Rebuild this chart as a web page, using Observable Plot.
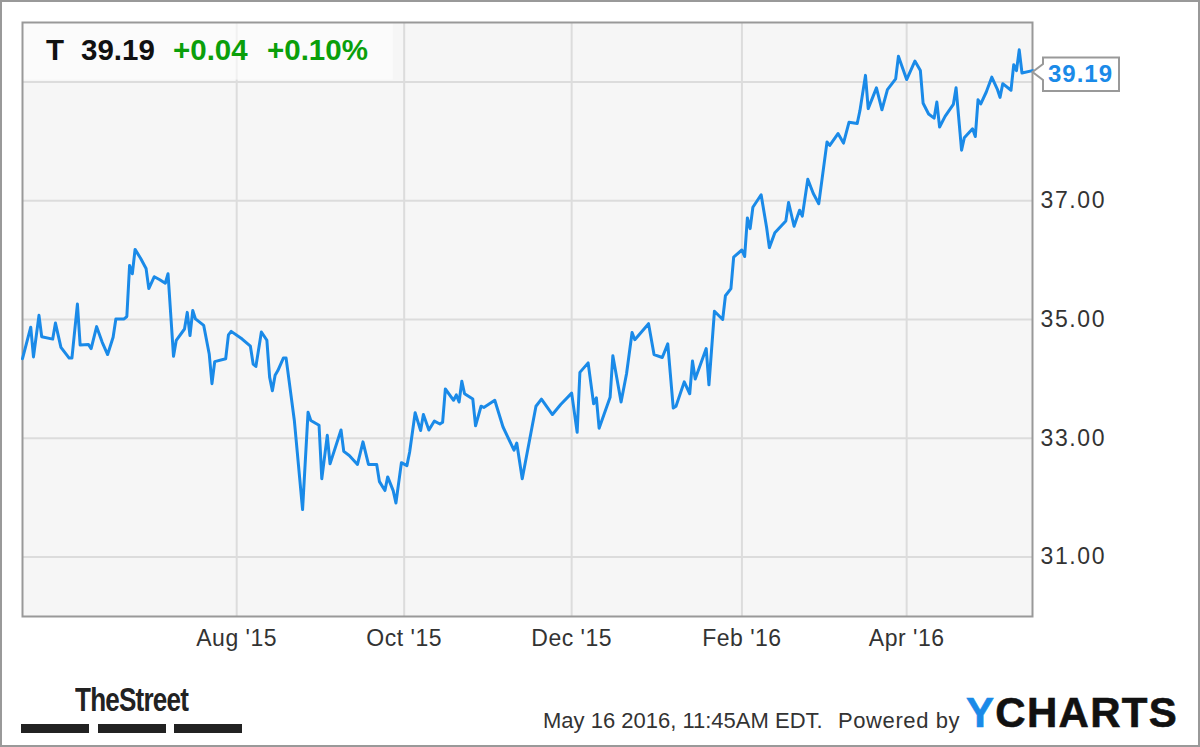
<!DOCTYPE html>
<html><head><meta charset="utf-8">
<script src="https://cdn.jsdelivr.net/npm/d3@7"></script>
<script src="https://cdn.jsdelivr.net/npm/@observablehq/plot@0.6"></script>
<style>
html,body{margin:0;padding:0;background:#fff;overflow:hidden}
#wrap{position:relative;width:1200px;height:747px;font-family:"Liberation Sans",Arial,sans-serif}
#wrap svg{display:block}
.abs{position:absolute;white-space:pre;line-height:1}
.bar{position:absolute;top:724px;height:9px;background:#222;width:68px}
[aria-label="y-axis tick label"]{letter-spacing:1.6px}
[aria-label="x-axis tick label"]{letter-spacing:.5px}
</style></head><body><div id="wrap"></div>
<script>
const ticker = "T";
const lastPrice = 39.19;
const change = "+0.04";
const changePct = "+0.10%";
const yTicks = [31, 33, 35, 37];
const yGrid = [31, 33, 35, 37, 39];
const xTicks = ["2015-08-01","2015-10-01","2015-12-01","2016-02-01","2016-04-01"];
const xDomain = ["2015-05-15","2016-05-16T20:00:00Z"];
const yDomain = [30, 40];
const headerBandEnd = "2015-09-27";
const dates = ["2015-05-15","2015-05-18","2015-05-19","2015-05-21","2015-05-22","2015-05-26","2015-05-27","2015-05-29","2015-06-01","2015-06-02","2015-06-04","2015-06-05","2015-06-08","2015-06-09","2015-06-11","2015-06-13","2015-06-15","2015-06-17","2015-06-18","2015-06-21","2015-06-22","2015-06-23","2015-06-24","2015-06-25","2015-06-27","2015-06-29","2015-06-30","2015-07-02","2015-07-04","2015-07-06","2015-07-07","2015-07-09","2015-07-10","2015-07-13","2015-07-14","2015-07-15","2015-07-16","2015-07-17","2015-07-20","2015-07-22","2015-07-23","2015-07-24","2015-07-28","2015-07-29","2015-07-30","2015-08-03","2015-08-06","2015-08-07","2015-08-08","2015-08-10","2015-08-12","2015-08-13","2015-08-14","2015-08-15","2015-08-16","2015-08-18","2015-08-19","2015-08-22","2015-08-25","2015-08-27","2015-08-28","2015-08-31","2015-09-01","2015-09-03","2015-09-04","2015-09-08","2015-09-09","2015-09-11","2015-09-14","2015-09-16","2015-09-18","2015-09-21","2015-09-22","2015-09-24","2015-09-25","2015-09-27","2015-09-28","2015-09-30","2015-10-02","2015-10-03","2015-10-05","2015-10-07","2015-10-08","2015-10-10","2015-10-12","2015-10-14","2015-10-15","2015-10-16","2015-10-19","2015-10-20","2015-10-21","2015-10-22","2015-10-23","2015-10-26","2015-10-27","2015-10-29","2015-10-30","2015-11-03","2015-11-06","2015-11-10","2015-11-11","2015-11-13","2015-11-18","2015-11-20","2015-11-24","2015-11-27","2015-12-01","2015-12-03","2015-12-04","2015-12-07","2015-12-09","2015-12-10","2015-12-11","2015-12-15","2015-12-16","2015-12-19","2015-12-21","2015-12-23","2015-12-24","2015-12-29","2015-12-31","2016-01-03","2016-01-05","2016-01-07","2016-01-08","2016-01-11","2016-01-13","2016-01-14","2016-01-15","2016-01-19","2016-01-20","2016-01-22","2016-01-25","2016-01-26","2016-01-28","2016-01-29","2016-02-01","2016-02-02","2016-02-03","2016-02-04","2016-02-05","2016-02-08","2016-02-10","2016-02-11","2016-02-13","2016-02-17","2016-02-18","2016-02-20","2016-02-22","2016-02-23","2016-02-25","2016-02-27","2016-02-29","2016-03-03","2016-03-04","2016-03-07","2016-03-09","2016-03-11","2016-03-14","2016-03-15","2016-03-17","2016-03-18","2016-03-21","2016-03-23","2016-03-25","2016-03-28","2016-03-29","2016-04-01","2016-04-04","2016-04-06","2016-04-07","2016-04-09","2016-04-11","2016-04-12","2016-04-13","2016-04-15","2016-04-18","2016-04-19","2016-04-21","2016-04-22","2016-04-25","2016-04-26","2016-04-27","2016-04-28","2016-04-30","2016-05-02","2016-05-04","2016-05-05","2016-05-06","2016-05-09","2016-05-10","2016-05-11","2016-05-12","2016-05-13","2016-05-16T20:00:00Z"];
const prices = [34.34,34.87,34.37,35.07,34.71,34.67,34.94,34.53,34.35,34.35,35.26,34.57,34.58,34.51,34.88,34.62,34.41,34.70,35.01,35.01,35.05,35.91,35.77,36.18,36.03,35.86,35.52,35.72,35.67,35.61,35.77,34.38,34.65,34.84,35.12,34.73,35.15,35.01,34.90,34.42,33.92,34.29,34.34,34.74,34.80,34.67,34.55,34.25,34.21,34.79,34.65,34.03,33.80,34.06,34.14,34.35,34.35,33.30,31.80,33.44,33.30,33.22,32.32,33.05,32.57,33.14,32.78,32.71,32.56,32.94,32.56,32.56,32.27,32.12,32.35,32.12,31.91,32.59,32.54,32.77,33.43,33.13,33.40,33.14,33.29,33.24,33.27,33.83,33.64,33.73,33.61,33.96,33.75,33.66,33.21,33.54,33.52,33.64,33.19,32.80,32.92,32.32,33.54,33.66,33.40,33.57,33.76,33.10,34.11,34.27,33.58,33.68,33.17,33.69,34.39,33.61,34.09,34.78,34.66,34.93,34.41,34.36,34.59,33.51,33.54,33.95,33.75,34.30,34.00,34.51,33.90,35.14,35.00,35.40,35.52,36.05,36.17,36.06,36.71,36.53,36.89,37.10,36.55,36.21,36.46,36.66,36.97,36.57,36.84,36.74,37.36,37.12,36.95,37.99,37.93,38.13,37.97,38.32,38.30,38.52,39.11,38.55,38.90,38.53,38.87,39.05,39.43,39.04,39.35,39.19,38.64,38.46,38.39,38.66,38.24,38.42,38.62,38.90,37.85,38.06,38.21,38.08,38.70,38.63,38.83,39.08,38.88,38.74,38.97,38.86,39.29,39.19,39.54,39.15,39.19];
const series = dates.map((d,i)=>({date:new Date(d),price:prices[i]}));

const chart = Plot.plot({
  width:1200, height:747,
  marginLeft:22, marginRight:168, marginTop:22, marginBottom:131,
  style:{fontFamily:'"Liberation Sans",Arial,sans-serif',fontSize:"23px",color:"#333",background:"transparent",overflow:"visible"},
  x:{type:"utc",domain:xDomain.map(d=>new Date(d))},
  y:{domain:yDomain},
  marks:[
    Plot.frame({fill:"#f6f6f6",stroke:"none"}),
    Plot.gridX(xTicks.map(d=>new Date(d)),{stroke:"#dcdcdc",strokeOpacity:1,strokeWidth:2}),
    Plot.gridY(yGrid,{stroke:"#dcdcdc",strokeOpacity:1,strokeWidth:2}),
    Plot.rectY([0],{x1:()=>new Date(xDomain[0]),x2:()=>new Date(headerBandEnd),y1:()=>39.03,y2:()=>40,fill:"#fff",fillOpacity:0.6}),
    Plot.frame({stroke:"#999",strokeWidth:2}),
    Plot.axisX(xTicks.map(d=>new Date(d)),{anchor:"bottom",tickSize:0,tickPadding:13,label:null,fontSize:23,
      tickFormat:d=>d3.utcFormat("%b '%y")(d)}),
    Plot.axisY(yTicks,{anchor:"right",tickSize:0,tickPadding:8,label:null,fontSize:23,tickFormat:d=>d.toFixed(2)}),
    Plot.line(series,{x:"date",y:"price",stroke:"#1a8ae8",strokeWidth:3,strokeLinejoin:"round"})
  ]
});
const wrap=document.getElementById("wrap");
wrap.appendChild(chart);
function add(cls,txt,css){const e=document.createElement("div");e.className=cls;e.textContent=txt;e.style.cssText=css;wrap.appendChild(e);return e;}
const hdr='top:35px;font-size:29.5px;font-weight:bold;';
add("abs",ticker,hdr+'left:46px;color:#111');
add("abs",lastPrice.toFixed(2),hdr+'left:81px;color:#111');
add("abs",change,hdr+'left:173px;color:#0a9f0a');
add("abs",changePct,hdr+'left:267px;color:#0a9f0a');
add("","", "position:absolute;left:0;top:0;width:1196px;height:743px;border:2px solid #999;pointer-events:none");
// last-value callout
const ns="http://www.w3.org/2000/svg";
const co=document.createElementNS(ns,"svg");
co.setAttribute("width","100");co.setAttribute("height","50");
co.style.cssText="position:absolute;left:1030px;top:48px";
const p=document.createElementNS(ns,"path");
p.setAttribute("d","M2.5 24 L13 16 L13 9.5 L89 9.5 L89 43 L13 43 L13 32 Z");
p.setAttribute("fill","#fff");p.setAttribute("stroke","#999");p.setAttribute("stroke-width","2");
co.appendChild(p);wrap.appendChild(co);
add("abs",lastPrice.toFixed(2),'left:1048px;top:62px;font-size:24px;font-weight:bold;letter-spacing:1px;color:#1a8ae8');
// footer
add("abs","TheStreet",'left:75px;top:683px;font-size:33px;font-weight:bold;color:#222;letter-spacing:-1px;transform:scaleX(.79);transform-origin:left center');
add("bar","","left:21px");add("bar","","left:98px");add("bar","","left:174px");
add("abs","May 16 2016, 11:45AM EDT.",'left:543px;top:710px;font-size:22px;color:#333');
add("abs","Powered by",'left:838px;top:710px;font-size:22px;letter-spacing:.6px;color:#333');
const yc=add("abs","",'left:966px;top:692px;font-size:42px;font-weight:bold;letter-spacing:1.3px;color:#111;-webkit-text-stroke:.6px #111');
const y=document.createElement("span");y.textContent="Y";y.style.cssText="color:#1a8ae8;-webkit-text-stroke:.6px #1a8ae8";yc.appendChild(y);
yc.appendChild(document.createTextNode("CHARTS"));
</script></body></html>
